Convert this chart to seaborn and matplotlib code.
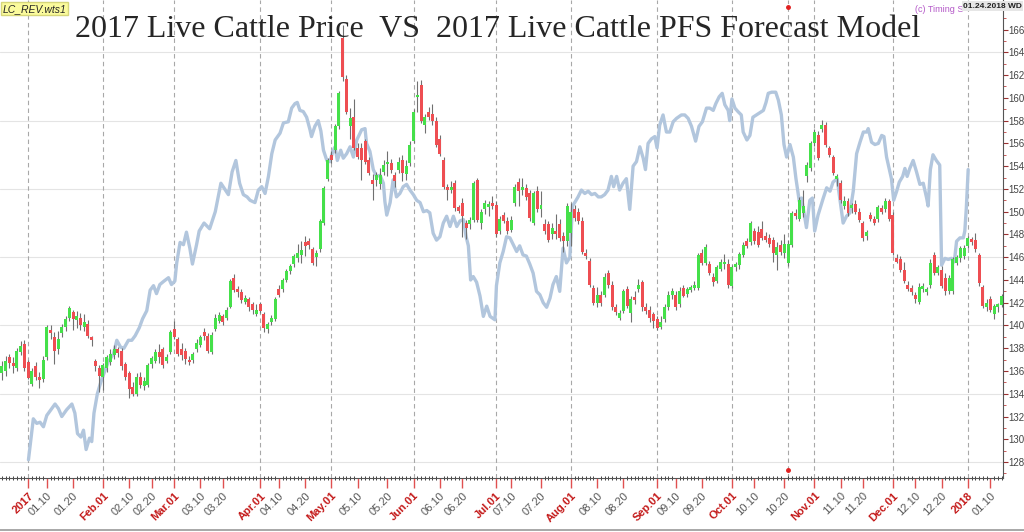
import matplotlib
matplotlib.use("Agg")
import matplotlib.pyplot as plt
from matplotlib.lines import Line2D
from matplotlib.ticker import MultipleLocator
import numpy as np
import pandas as pd
import seaborn as sns

# ---- daily OHLC candles (open, high, low, close) ----
dec16 = [(135.8, 136.9, 135.2, 136.4), (136.0, 137.3, 135.6, 136.9), (137.2, 137.5, 136.3, 136.7),
         (136.7, 137.2, 135.8, 136.4), (136.3, 138.0, 136.0, 137.8), (137.7, 138.6, 137.4, 138.2),
         (138.4, 138.7, 136.0, 136.3)]
jan17 = [(136.8, 137.0, 135.3, 135.4), (134.9, 136.3, 134.7, 136.0), (136.4, 136.8, 135.2, 135.5),
         (135.5, 135.9, 134.5, 135.2), (135.3, 137.3, 135.0, 137.0), (137.2, 140.0, 137.0, 139.9),
         (139.6, 140.0, 138.8, 139.3), (139.0, 139.4, 136.6, 137.8), (137.9, 139.5, 137.5, 138.8),
         (139.3, 140.1, 139.0, 139.9), (139.9, 140.8, 139.5, 140.6), (140.7, 141.7, 140.4, 141.5),
         (141.2, 141.4, 139.6, 140.6), (140.5, 141.3, 139.8, 140.8), (140.7, 141.1, 139.6, 140.0),
         (139.9, 141.0, 139.5, 140.3), (140.1, 140.5, 138.9, 139.1), (139.0, 139.1, 138.2, 138.7),
         (136.9, 137.1, 136.0, 136.4), (136.3, 136.5, 134.2, 135.6)]
feb17 = [(135.5, 136.7, 134.3, 136.5), (136.3, 137.4, 135.9, 137.2), (136.8, 137.9, 136.5, 137.5),
         (137.4, 138.3, 137.1, 137.9), (137.9, 138.1, 137.2, 137.6), (137.8, 138.0, 136.1, 136.4),
         (136.6, 136.8, 135.2, 135.5), (135.8, 136.0, 133.6, 134.4), (134.6, 135.0, 133.8, 134.0),
         (134.0, 135.8, 133.8, 135.5), (135.5, 135.9, 134.5, 134.8), (134.7, 135.5, 134.3, 135.1),
         (134.8, 136.7, 134.6, 136.5), (136.6, 137.3, 136.3, 137.1), (136.9, 137.9, 136.7, 137.7),
         (137.7, 138.4, 136.7, 137.2), (137.9, 138.1, 136.3, 136.5), (136.9, 137.5, 136.7, 137.2),
         (137.7, 139.6, 137.5, 139.4)]
mar17 = [(139.7, 140.4, 138.8, 139.0), (138.8, 139.0, 137.3, 137.5), (137.9, 138.5, 137.0, 137.4),
         (137.8, 138.0, 136.6, 137.1), (137.0, 137.3, 136.5, 136.8), (136.95, 137.7, 136.7, 137.5),
         (137.9, 138.8, 137.7, 138.5), (138.3, 139.2, 138.1, 139.0), (139.4, 139.8, 138.7, 139.1),
         (139.1, 139.3, 137.6, 137.8), (137.7, 139.4, 137.5, 139.2), (139.7, 141.0, 139.5, 140.7),
         (140.4, 141.2, 140.2, 140.9), (140.8, 141.0, 140.0, 140.3), (140.7, 141.6, 140.5, 141.4),
         (141.6, 144.1, 141.5, 143.9), (144.2, 144.5, 142.9, 143.1), (143.2, 143.5, 142.5, 142.9),
         (142.9, 143.2, 142.0, 142.2), (142.1, 142.7, 141.9, 142.4), (142.3, 142.5, 141.3, 141.6),
         (141.9, 142.1, 141.0, 141.4), (141.0, 141.9, 140.8, 141.4)]
apr17 = [(141.9, 142.1, 141.1, 141.3), (141.0, 141.2, 139.4, 139.8), (139.7, 140.3, 139.3, 140.1),
         (140.3, 140.9, 140.0, 140.7), (140.6, 142.5, 140.4, 142.3), (143.2, 143.6, 142.5, 142.7),
         (143.2, 144.2, 142.9, 144.0), (144.0, 145.0, 143.8, 144.8), (144.8, 145.4, 144.5, 145.2),
         (145.4, 146.3, 145.1, 146.1), (145.9, 147.2, 145.6, 146.4), (146.2, 147.4, 145.5, 146.6),
         (147.3, 147.9, 146.1, 147.0), (147.4, 147.7, 146.7, 147.1), (146.7, 146.9, 145.3, 145.5),
         (146.0, 146.6, 145.2, 146.4), (146.7, 149.4, 146.5, 149.2), (149.0, 152.3, 148.8, 152.1),
         (152.9, 154.7, 152.7, 154.5)]
may17 = [(155.0, 155.3, 154.3, 154.5), (155.4, 157.7, 155.2, 157.5), (157.5, 160.6, 157.3, 160.4),
         (165.3, 166.4, 161.5, 161.8), (161.7, 162.0, 158.6, 158.8), (157.5, 159.1, 156.4, 158.2),
         (158.3, 159.9, 155.4, 155.6), (155.6, 156.0, 154.6, 154.8), (155.6, 156.0, 152.8, 154.5),
         (156.2, 156.4, 154.2, 154.4), (154.5, 154.8, 153.2, 153.4), (152.8, 153.3, 151.0, 152.4),
         (152.8, 153.5, 152.3, 153.2), (152.4, 153.8, 152.0, 153.2), (153.5, 154.5, 153.2, 154.1),
         (154.2, 155.3, 153.1, 154.3), (154.25, 154.6, 153.4, 153.7), (153.2, 153.5, 152.2, 152.7),
         (153.7, 154.8, 153.4, 154.4), (154.5, 155.0, 152.7, 153.4), (153.3, 154.5, 152.8, 154.0),
         (154.3, 156.2, 154.0, 155.9)]
jun17 = [(156.2, 159.0, 156.0, 158.8), (160.1, 161.5, 158.8, 160.2), (161.1, 161.6, 157.8, 158.0),
         (157.6, 158.6, 156.9, 158.3), (158.8, 159.2, 158.1, 158.3), (158.6, 159.5, 157.6, 158.0),
         (158.0, 158.3, 155.7, 155.9), (156.4, 156.7, 154.9, 155.1), (154.5, 154.8, 152.0, 152.2),
         (152.2, 152.4, 151.0, 151.9), (151.9, 152.7, 151.6, 152.2), (152.5, 152.8, 150.1, 150.3),
         (150.4, 150.6, 149.9, 150.1), (150.8, 151.2, 147.8, 149.6), (149.0, 149.3, 147.6, 148.6),
         (148.9, 149.5, 148.5, 149.3), (149.3, 152.7, 149.1, 152.5), (152.8, 153.0, 149.1, 149.3),
         (149.0, 150.2, 148.5, 150.0), (150.2, 151.0, 149.8, 150.8), (150.4, 150.9, 149.6, 150.7),
         (150.8, 151.4, 150.2, 150.5)]
jul17 = [(150.6, 150.9, 147.8, 148.0), (148.3, 149.6, 148.0, 149.4), (149.7, 150.0, 149.0, 149.2),
         (149.2, 149.5, 148.0, 148.3), (148.4, 149.6, 148.2, 149.3), (150.8, 152.4, 150.5, 152.2),
         (152.65, 153.0, 150.5, 151.8), (151.9, 153.0, 151.5, 152.2), (152.1, 152.4, 151.0, 151.3),
         (151.6, 151.9, 149.2, 149.45), (149.0, 151.8, 148.8, 151.6), (151.8, 152.3, 150.0, 150.2),
         (150.2, 151.8, 149.5, 150.6), (148.9, 149.4, 148.0, 148.3), (148.9, 149.2, 147.3, 147.55),
         (148.0, 149.0, 147.6, 148.6), (148.3, 149.8, 147.6, 148.0), (148.9, 149.4, 147.4, 147.7),
         (147.85, 148.2, 146.5, 147.4), (147.4, 150.8, 147.0, 150.5)]
aug17 = [(148.1, 150.8, 147.0, 150.0), (150.2, 150.6, 149.2, 149.45), (150.0, 150.3, 148.9, 149.2),
         (149.2, 149.5, 146.3, 146.5), (146.4, 146.7, 145.8, 146.1), (145.65, 145.9, 143.4, 143.6),
         (143.3, 143.6, 141.8, 142.0), (142.0, 143.4, 141.6, 142.7), (142.7, 143.0, 141.7, 142.0),
         (142.7, 144.6, 142.5, 144.3), (144.6, 144.9, 143.3, 143.6), (143.6, 143.9, 141.4, 141.6),
         (141.6, 141.9, 140.9, 141.2), (140.7, 141.4, 140.5, 141.1), (141.3, 143.2, 141.1, 143.0),
         (143.2, 143.5, 141.5, 141.7), (141.1, 142.6, 140.3, 142.3), (142.5, 143.0, 141.9, 142.2),
         (143.2, 144.1, 142.9, 143.6), (143.8, 144.0, 141.3, 141.6), (141.6, 142.0, 141.0, 141.3),
         (141.4, 141.7, 140.3, 140.7), (141.0, 141.2, 139.8, 140.4)]
sep17 = [(140.55, 140.8, 139.6, 139.8), (139.9, 140.8, 139.7, 140.3), (140.55, 141.9, 140.3, 141.6),
         (141.6, 143.0, 141.4, 142.7), (142.7, 143.3, 142.3, 143.0), (142.7, 143.0, 141.4, 141.6),
         (141.9, 143.4, 141.6, 143.0), (143.3, 143.6, 142.5, 142.6), (142.8, 143.4, 142.5, 143.2),
         (143.1, 143.6, 142.9, 143.4), (143.3, 143.9, 143.1, 143.6), (143.3, 146.4, 143.1, 146.2),
         (146.4, 146.7, 145.3, 145.5), (145.5, 147.2, 145.3, 146.9), (145.4, 145.7, 144.4, 144.6),
         (144.3, 144.6, 143.5, 143.8), (143.9, 145.3, 143.7, 145.1), (145.0, 145.8, 144.8, 145.6),
         (145.4, 146.3, 145.0, 145.5), (145.4, 145.8, 143.3, 143.6)]
oct17 = [(143.5, 145.3, 143.3, 145.1), (145.1, 145.6, 144.8, 145.4), (145.3, 146.5, 145.0, 146.3),
         (146.2, 147.3, 146.0, 147.1), (147.4, 147.7, 146.8, 147.0), (147.3, 149.2, 147.1, 149.0),
         (148.3, 148.6, 147.2, 147.4), (148.2, 148.7, 146.9, 147.1), (148.5, 149.2, 147.5, 147.7),
         (147.9, 148.2, 147.3, 147.5), (147.7, 148.0, 146.9, 147.2), (147.5, 147.8, 145.6, 146.4),
         (146.2, 147.3, 144.9, 146.9), (147.1, 147.5, 146.2, 146.5), (146.4, 148.0, 145.9, 147.2),
         (145.5, 147.5, 145.2, 147.2), (147.1, 150.1, 146.9, 149.9), (149.9, 150.2, 149.4, 149.6),
         (149.4, 151.3, 149.2, 151.0), (149.9, 151.9, 149.5, 150.5), (153.1, 154.4, 152.6, 154.1),
         (153.8, 156.2, 153.6, 156.0)]
nov17 = [(156.0, 157.3, 155.8, 157.0), (156.7, 157.1, 154.5, 154.7), (157.3, 158.1, 157.0, 157.6),
         (157.6, 157.9, 155.7, 155.9), (155.6, 155.8, 154.8, 155.0), (154.8, 155.0, 153.2, 153.4),
         (152.9, 153.3, 152.3, 153.1), (152.5, 152.8, 150.8, 151.0), (150.5, 151.4, 150.2, 150.9),
         (150.9, 151.2, 149.6, 149.9), (150.3, 150.8, 149.9, 150.6), (150.7, 151.0, 149.8, 150.0),
         (150.0, 150.3, 149.1, 149.3), (149.0, 149.2, 147.4, 147.7), (147.9, 148.4, 147.5, 148.2),
         (149.7, 150.0, 149.2, 149.4), (149.4, 149.6, 148.8, 149.0), (149.4, 150.6, 149.1, 150.4),
         (150.3, 150.6, 149.8, 150.0), (150.2, 151.2, 150.0, 150.9), (150.9, 151.1, 149.2, 149.4)]
dec17 = [(149.7, 150.0, 146.2, 146.4), (145.9, 146.3, 145.5, 145.6), (145.8, 146.1, 144.7, 144.9),
         (144.9, 145.6, 143.7, 143.9), (143.6, 143.9, 143.0, 143.2), (143.3, 143.6, 142.7, 142.9),
         (142.7, 142.9, 142.0, 142.3), (142.1, 143.7, 141.9, 143.4), (143.2, 143.7, 142.9, 143.5),
         (142.9, 143.4, 142.7, 143.2), (143.6, 145.8, 143.3, 145.5), (146.2, 146.5, 144.4, 144.6),
         (144.6, 145.3, 144.4, 145.1), (144.9, 145.2, 143.3, 143.5), (144.2, 144.6, 142.7, 143.0),
         (143.0, 144.4, 142.8, 144.2), (143.0, 146.0, 142.8, 145.8), (145.5, 146.2, 145.3, 146.0),
         (145.9, 147.0, 145.6, 146.8), (146.1, 147.1, 145.8, 146.8)]
jan18 = [(147.0, 147.9, 146.8, 147.7), (147.6, 147.8, 147.1, 147.3), (147.5, 148.1, 146.5, 146.7),
         (146.2, 146.4, 143.5, 143.7), (143.4, 143.6, 141.5, 141.7), (141.6, 142.3, 141.3, 142.0),
         (142.3, 142.6, 141.2, 141.4), (141.0, 141.9, 140.6, 141.7), (141.6, 142.0, 141.2, 141.9),
         (141.8, 142.8, 141.6, 142.6)]

# ---- PFS forecast line: (trading-day index, value) points ----
pfs_idx = [0.1, 1.4, 2.3, 3.2, 4.1, 5.0, 6.3, 7.2, 8.1, 9.0, 10.3, 11.7, 12.5, 13.2, 14.1, 14.8, 15.5, 16.4,
           17.0, 17.6, 18.5, 19.4, 20.6, 21.4, 22.8, 23.7, 24.7, 25.6, 26.8, 27.7, 28.6, 29.7, 30.6, 31.7,
           32.6, 33.5, 34.3, 35.2, 36.3, 37.5, 38.3, 39.2, 39.7, 40.6, 41.5, 42.3, 43.2, 43.9, 45.0, 45.7,
           47.0, 48.5, 50.0, 51.5, 52.5, 53.5, 54.5, 55.5, 56.5, 57.5, 58.5,
           59.3, 60.6, 61.5, 62.4, 63.3, 64.2, 65.1, 66.0, 67.3, 68.2, 69.5, 70.4, 71.3, 71.9, 72.6, 73.5,
           74.4, 75.3, 75.7, 76.6, 77.5, 78.2, 78.9, 79.8, 80.6, 81.5, 82.0, 82.6, 83.5, 84.2, 85.1, 86.0,
           86.9, 87.8, 89.1, 90.0, 90.4, 91.3, 92.2, 93.1, 94.0, 94.9, 95.3, 95.8, 96.7, 97.5, 98.4, 99.3,
           100.2, 101.1, 102.0, 102.9, 103.8, 104.7, 105.6, 106.5, 107.3, 108.2, 109.1, 110.0, 110.9,
           111.8, 112.7, 113.6, 114.5, 115.4, 116.3, 117.0, 117.6, 118.2, 118.9, 119.8, 120.7, 121.6,
           122.5, 123.4, 124.7, 125.1, 126.0, 126.9, 127.8, 128.7, 129.6, 130.5, 131.3, 132.2, 133.1,
           134.0, 134.9, 135.8, 136.7, 137.6, 138.5, 139.4, 140.2, 141.1, 142.0, 142.5, 142.9, 143.8,
           144.7, 145.4, 146.0, 146.9, 147.8, 148.7, 149.6, 150.5, 151.4, 152.3, 153.1, 154.0, 154.9,
           155.8, 156.4, 157.2, 158.0, 158.9, 159.8, 160.7, 161.6, 162.5, 163.4, 164.3, 164.9, 165.6,
           166.5, 167.4, 168.0, 168.7, 169.6, 170.5, 171.4, 172.3, 173.2, 174.5, 175.4, 176.3, 177.2,
           178.3, 179.2, 180.1, 181.2, 182.1, 183.0, 183.7, 184.6, 185.4, 186.1, 187.0, 187.4, 188.0,
           188.8, 189.6, 190.5, 191.0, 192.0, 192.8, 193.6, 195.0, 196.4, 197.1, 197.7, 198.6, 199.7,
           200.4, 201.2, 201.9, 202.6, 203.5, 204.4, 205.1, 206.0, 206.6, 207.9, 208.8, 209.5, 210.1,
           211.0, 212.4, 213.3, 214.2, 215.0, 216.1, 216.8, 217.7, 218.6, 219.5, 220.4, 221.3, 222.2,
           223.1, 224.0, 224.4, 225.3, 226.2, 227.1, 228.0, 228.6, 229.3, 230.2, 230.6, 231.2, 232.0,
           232.7, 233.6, 234.2, 234.8, 235.5, 236.4, 237.3, 238.2, 239.1, 240.0, 240.4, 241.0, 241.7,
           242.6, 243.5, 244.0, 244.9, 245.8, 246.6, 247.4, 248.0, 248.9, 249.8, 250.2, 250.6, 251.1]
pfs_val = [128.2, 131.8, 131.4, 131.5, 131.1, 132.1, 132.7, 133.1, 132.7, 132.0, 132.6, 133.1, 132.3, 130.5,
           130.2, 130.8, 129.1, 130.1, 129.8, 132.3, 134.0, 135.0, 136.1, 136.8, 137.5, 138.7, 138.1,
           138.0, 138.7, 138.7, 139.1, 139.8, 140.6, 141.3, 143.1, 143.5, 142.8, 143.6, 143.9, 144.2,
           143.6, 143.9, 145.5, 147.3, 147.1, 148.2, 146.8, 145.4, 147.1, 148.3,
           149.0, 148.5, 150.0, 152.5, 152.0, 151.5, 153.5, 154.5, 152.5, 151.5, 151.3,
           151.0, 150.8, 151.9, 152.2, 151.6, 153.1, 155.1, 156.3, 156.9, 157.8, 157.9, 159.1, 159.5,
           159.6, 158.9, 158.8, 158.3, 157.2, 156.6, 157.5, 158.0, 157.1, 155.4, 154.5, 154.4, 155.4,
           155.7, 154.5, 155.4, 154.7, 155.1, 155.7, 154.8, 156.3, 157.2, 157.3, 156.0, 155.3, 153.7,
           153.1, 153.2, 152.5, 150.9, 149.7, 150.8, 152.8, 151.3, 151.6, 152.2, 152.4, 151.9, 151.5,
           151.0, 150.8, 150.0, 150.1, 149.9, 148.1, 147.5, 147.8, 149.0, 149.6, 148.7, 149.6, 148.7,
           149.2, 149.3, 147.8, 147.0, 144.0, 144.3, 143.8, 142.6, 140.8, 141.7, 140.8, 140.5, 143.5,
           145.5, 146.5, 147.8, 147.7, 147.1, 146.5, 147.0, 146.2, 146.1, 145.4, 144.6, 143.0, 142.7,
           142.0, 141.6, 142.4, 143.6, 144.3, 143.0, 145.1, 146.8, 145.5, 146.0, 150.5, 150.8, 151.3,
           151.9, 151.6, 151.8, 151.5, 151.6, 151.3, 151.3, 151.5, 151.9, 153.1, 152.2, 153.1, 151.9,
           152.5, 152.9, 150.2, 154.0, 154.4, 155.7, 154.7, 153.7, 156.0, 156.4, 156.6, 155.6, 157.6,
           158.5, 157.0, 157.0, 157.9, 158.2, 158.5, 158.5, 158.2, 157.5, 156.2, 157.5, 157.9, 159.1,
           159.1, 158.9, 159.5, 160.1, 160.4, 159.4, 158.9, 158.0, 159.9, 159.1, 158.8, 158.5, 157.0,
           156.3, 156.7, 158.3, 158.6, 158.9, 159.6, 160.4, 160.5, 160.5, 159.8, 158.5, 155.9, 154.8,
           155.9, 154.8, 152.9, 150.9, 151.2, 148.6, 151.0, 151.2, 148.3, 149.7, 151.2, 152.1, 151.8,
           152.6, 152.9, 151.2, 149.0, 149.6, 149.9, 151.8, 155.1, 156.1, 157.0, 157.0, 157.3, 156.1,
           155.9, 156.0, 156.7, 156.6, 154.8, 153.5, 152.9, 151.0, 151.8, 152.6, 153.1, 153.8, 153.1,
           153.8, 154.5, 153.5, 152.4, 152.5, 151.2, 150.5, 153.7, 155.0, 154.5, 154.1, 145.3, 145.9,
           145.8, 145.9, 145.6, 147.4, 147.7, 147.7, 148.3, 150.3, 153.7]

HOLIDAYS = ['2016-12-26', '2017-01-02', '2017-01-16', '2017-02-20', '2017-04-14', '2017-05-29',
            '2017-07-04', '2017-09-04', '2017-11-23', '2017-12-25', '2018-01-01', '2018-01-15']
MONTHS = ['Jan', 'Feb', 'Mar', 'Apr', 'May', 'Jun', 'Jul', 'Aug', 'Sep', 'Oct', 'Nov', 'Dec']

rows = dec16 + jan17 + feb17 + mar17 + apr17 + may17 + jun17 + jul17 + aug17 + sep17 + oct17 + nov17 + dec17 + jan18
days = pd.bdate_range('2016-12-21', '2018-01-16')
days = days[~days.isin(pd.to_datetime(HOLIDAYS))]
df = pd.DataFrame(rows, columns=['open', 'high', 'low', 'close'])
df['date'] = days[:len(df)]
df['i'] = np.arange(len(df)) - len(dec16)

GREEN, RED, BLUE = '#45e04a', '#ee4e52', '#b2c6dd'

sns.set_style("white")
plt.rcParams['font.family'] = ['Liberation Sans', 'DejaVu Sans']
fig = plt.figure(figsize=(10.24, 5.32), dpi=100)
ax = fig.add_axes([0, 54 / 532, 1003 / 1024, 478 / 532])
ax.set_xlim(-7.5, 260.4)
ax.set_ylim(126.6, 168.6)

# grid
for v in range(128, 166, 6):
    ax.axhline(v, color='#e4e4e4', lw=0.8, zorder=0)
month_start = df[df['date'].dt.month != df['date'].shift().dt.month]
month_start = month_start[month_start['i'] >= 0]
for i in month_start['i']:
    ax.axvline(i, color='#a8a8a8', lw=0.8, ls=(0, (4, 3)), zorder=0)
ax.axvline(203, color='#a8a8a8', lw=0.8, ls=(0, (4, 3)), zorder=0)
ax.plot([203, 203], [127.3, 168.0], ls='none', marker='o', ms=2.5, color='#e02020', zorder=5)

# forecast line
sns.lineplot(x=pfs_idx, y=pfs_val, ax=ax, color=BLUE, lw=2.4, sort=False, zorder=1)

# candles
up = df['close'] >= df['open']
ax.vlines(df['i'], df['low'], df['high'], color='#707070', lw=0.8, zorder=2)
body = (df['close'] - df['open']).abs().clip(lower=0.15)
ax.bar(df['i'], body, bottom=df[['open', 'close']].min(axis=1), width=0.8,
       color=np.where(up, GREEN, RED), linewidth=0, zorder=3)

# right price axis
ax.yaxis.tick_right()
ax.yaxis.set_major_locator(MultipleLocator(2))
ax.yaxis.set_minor_locator(MultipleLocator(1))
ax.set_yticks(range(128, 167, 2))
ax.tick_params(axis='y', which='major', length=3.5, color='#9a3030', labelsize=7, labelcolor='#444444', pad=0.5)
ax.tick_params(axis='y', which='minor', length=2, color='#c04040')

# bottom date axis
pos, labs, strong = [], [], []
for (y, m), g in df[df['i'] >= 0].groupby([df['date'].dt.year, df['date'].dt.month]):
    first = g.iloc[0]
    pos.append(first['i']); strong.append(True)
    labs.append(str(y) if m == 1 else f"{MONTHS[m - 1]}.01")
    for d in (10, 20):
        h = g[g['date'].dt.day >= d]
        if len(h):
            pos.append(h.iloc[0]['i']); strong.append(False)
            labs.append(f"{m:02d}.{d}")
ax.set_xticks(pos)
ax.set_xticklabels(labs, rotation=45, ha='right', rotation_mode='anchor', fontsize=8)
for t, s in zip(ax.get_xticklabels(), strong):
    if s:
        t.set_color('#c41a1a'); t.set_fontweight('bold')
    else:
        t.set_color('#555555')
ax.set_xticks(df['i'], minor=True)
ax.tick_params(axis='x', which='major', length=7, width=1, color='#e05050', pad=2, bottom=True)
ax.tick_params(axis='x', which='minor', length=3, width=0.6, color='#222222', direction='inout', bottom=True)

for s in ['top', 'left']:
    ax.spines[s].set_visible(False)
ax.spines['bottom'].set_color('#555555')
ax.spines['right'].set_color('#555555')
ax.set_xlabel(''); ax.set_ylabel('')

# texts
fig.text(0.486, 0.944, "2017 Live Cattle Price  VS  2017 Live Cattle PFS Forecast Model",
         family='Liberation Serif', fontsize=23, ha='center', va='center')
fig.text(0.003, 0.993, 'LC_REV.wts1', style='italic', fontsize=7.5, va='top', ha='left',
         bbox=dict(facecolor='#fbfb9c', edgecolor='#d6d67a', pad=1.2))
fig.text(915 / 1024, 0.99, '(c) Timing S', color='#b458c8', fontsize=6.5, va='top', ha='left')
fig.text(963 / 1024, 0.995, '01.24.2018 WD', fontweight='bold', fontsize=6, va='top', ha='left', color='#222222',
         bbox=dict(facecolor='#e6e6e6', edgecolor='none', pad=1.0))
fig.add_artist(Line2D([0, 1], [2 / 532, 2 / 532], color='#999999', lw=1.2))

fig.savefig('out.png', dpi=100)
